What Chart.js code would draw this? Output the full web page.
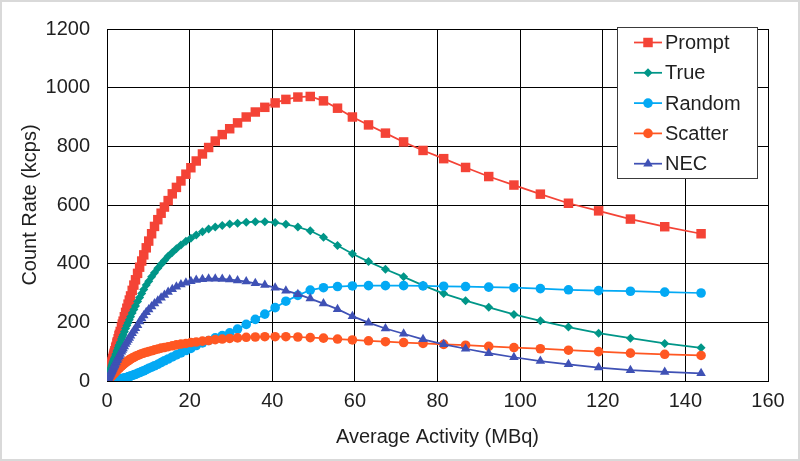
<!DOCTYPE html>
<html>
<head>
<meta charset="utf-8">
<script src="https://cdn.jsdelivr.net/npm/chart.js@4.4.1/dist/chart.umd.min.js"></script>
<style>
    body { margin: 0; background: #fff; }
    #wrap { width: 800px; height: 461px; }
</style>
</head>
<body>
<div id="wrap"><canvas id="myChart" width="800" height="461"></canvas></div>
<script>
// average activity (MBq), one sample per frame of the decay series
const activity = [0.1, 0.2, 0.3, 0.4, 0.5, 0.6, 0.7, 0.8, 0.9,
    1.0, 1.1, 1.2, 1.3, 1.4, 1.5, 1.6, 1.7, 1.8, 1.9, 2.1, 2.2, 2.4, 2.5, 2.7, 2.9, 3.0, 3.2, 3.5, 3.7,
    3.9, 4.2, 4.5, 4.8, 5.1, 5.4, 5.7, 6.1, 6.5, 6.9, 7.4, 7.9, 8.4, 8.9, 9.5, 10.1, 10.8, 11.5, 12.3, 13.1,
    13.9, 14.8, 15.8, 16.8, 17.9, 19.1, 20.3, 21.6, 23.1, 24.6, 26.2, 27.9, 29.7, 31.6, 33.7, 35.9, 38.2, 40.7, 43.3, 46.2,
    49.2, 52.4, 55.8, 59.4, 63.3, 67.4, 71.8, 76.5, 81.5, 86.8, 92.4, 98.5, 104.9, 111.7, 119.0, 126.7, 135.0, 143.8];

// count rates (kcps)
const promptRate = [6, 11, 17, 22, 28, 33, 39, 44, 50,
    55, 60, 65, 71, 76, 81, 87, 92, 97, 103, 113, 118, 129, 134, 144, 154, 159, 169, 184, 194,
    204, 219, 234, 248, 262, 276, 290, 309, 327, 345, 367, 388, 409, 430, 454, 477, 502, 527, 550, 572,
    593, 615, 638, 660, 682, 705, 727, 750, 774, 796, 818, 840, 860, 880, 900, 917, 933, 948, 960, 968,
    970, 955, 930, 900, 873, 845, 815, 786, 758, 728, 697, 668, 637, 606, 580, 552, 526, 502];
const trueRate = [4, 9, 13, 18, 22, 27, 31, 35, 40,
    44, 48, 52, 57, 61, 65, 69, 73, 77, 81, 89, 93, 101, 105, 113, 120, 124, 132, 143, 151,
    158, 168, 179, 189, 199, 209, 219, 232, 244, 256, 271, 285, 298, 312, 327, 340, 355, 369, 384, 398,
    411, 425, 438, 451, 464, 476, 487, 498, 509, 518, 525, 530, 535, 538, 541, 543, 543, 540, 534, 525,
    512, 490, 462, 434, 407, 381, 355, 326, 298, 274, 251, 227, 205, 184, 163, 146, 128, 113];
const randomRate = [0, 0, 0, 0, 0, 0, 1, 1, 1,
    1, 1, 1, 1, 1, 1, 2, 2, 2, 2, 3, 3, 3, 4, 4, 5, 5, 6, 7, 8,
    9, 10, 11, 12, 14, 15, 17, 19, 21, 23, 26, 29, 32, 35, 39, 43, 47, 52, 57, 63,
    69, 75, 82, 89, 96, 104, 111, 121, 130, 138, 147, 155, 164, 177, 193, 210, 228, 250, 272, 292,
    310, 318, 322, 324, 325, 325, 325, 324, 323, 322, 320, 318, 315, 311, 308, 306, 303, 300];
const scatterRate = [2, 3, 5, 6, 8, 9, 11, 12, 14,
    15, 17, 18, 20, 22, 23, 25, 26, 28, 29, 32, 34, 37, 38, 41, 44, 45, 48, 51, 54,
    56, 59, 63, 66, 69, 72, 75, 78, 81, 84, 87, 90, 93, 95, 98, 100, 103, 106, 109, 112,
    114, 117, 120, 123, 126, 128, 131, 133, 136, 138, 141, 143, 145, 147, 149, 150, 151, 151, 151, 150,
    148, 146, 143, 140, 137, 134, 131, 128, 125, 122, 118, 114, 110, 105, 100, 95, 91, 87];
const necRate = [3, 6, 9, 12, 15, 18, 21, 24, 27,
    30, 33, 36, 39, 42, 45, 48, 51, 54, 57, 62, 65, 71, 73, 79, 84, 87, 92, 100, 106,
    111, 118, 126, 133, 140, 147, 154, 163, 171, 180, 190, 203, 213, 223, 234, 244, 254, 264, 274, 284,
    293, 303, 313, 321, 329, 335, 340, 344, 347, 349, 349, 348, 346, 343, 339, 333, 327, 318, 308, 296,
    281, 264, 245, 221, 199, 179, 161, 142, 125, 110, 95, 81, 68, 57, 46, 37, 31, 26];

const seriesNames = ["Prompt", "True", "Random", "Scatter", "NEC"];
const xTicks = [0, 20, 40, 60, 80, 100, 120, 140, 160];
const yTicks = [0, 200, 400, 600, 800, 1000, 1200];

const fontFamily = '"Liberation Sans", Arial, sans-serif';
const textColor = '#1f1f1f';

function toPoints(ys) {
    return activity.map((x, i) => ({ x: x, y: ys[i] }));
}

function makeSet(name, ys, color, style, radius, order) {
    return {
        label: name,
        data: toPoints(ys),
        showLine: true,
        borderColor: color,
        backgroundColor: color,
        borderWidth: 1.75,
        pointStyle: style,
        pointRadius: radius,
        pointBackgroundColor: color,
        pointBorderWidth: 0,
        pointHoverRadius: radius,
        order: order
    };
}

// white page + thin gray frame round the picture
const pageFrame = {
    id: 'pageFrame',
    beforeDraw(chart) {
        const ctx = chart.ctx;
        ctx.save();
        ctx.fillStyle = '#fff';
        ctx.fillRect(0, 0, chart.width, chart.height);
        ctx.restore();
    },
    afterDraw(chart) {
        const ctx = chart.ctx;
        ctx.save();
        ctx.strokeStyle = '#d9d9d9';
        ctx.lineWidth = 2;
        ctx.strokeRect(1, 1, chart.width - 2, chart.height - 2);
        ctx.restore();
    }
};

// boxed legend with line + marker, like the spreadsheet one
const boxLegend = {
    id: 'boxLegend',
    afterDraw(chart) {
        const ctx = chart.ctx;
        ctx.save();
        ctx.fillStyle = '#fff';
        ctx.fillRect(617, 27, 141, 152);
        ctx.strokeStyle = '#3a3a3a';
        ctx.lineWidth = 1;
        ctx.strokeRect(617.5, 27.5, 140, 151);
        chart.data.datasets.forEach((ds, i) => {
            const y = 42.5 + i * 30.3;
            ctx.strokeStyle = ds.borderColor;
            ctx.lineWidth = 1.75;
            ctx.beginPath();
            ctx.moveTo(634, y);
            ctx.lineTo(662, y);
            ctx.stroke();
            ctx.fillStyle = ds.backgroundColor;
            Chart.helpers.drawPoint(ctx, { pointStyle: ds.pointStyle, radius: ds.pointRadius, borderWidth: 0, rotation: 0 }, 648, y);
            ctx.fillStyle = textColor;
            ctx.font = '20px ' + fontFamily;
            ctx.textBaseline = 'middle';
            ctx.textAlign = 'left';
            ctx.fillText(ds.label, 665, y + 1);
        });
        ctx.restore();
    }
};

const ctx = document.getElementById('myChart');
const myChart = new Chart(ctx, {
    type: 'scatter',
    data: {
        datasets: [
            makeSet(seriesNames[0], promptRate, '#F44336', 'rect', 6.7, 4),
            makeSet(seriesNames[1], trueRate, '#009688', 'rectRot', 4.5, 3),
            makeSet(seriesNames[2], randomRate, '#03A9F4', 'circle', 4.8, 2),
            makeSet(seriesNames[3], scatterRate, '#FF5722', 'circle', 4.8, 1),
            makeSet(seriesNames[4], necRate, '#3F51B5', 'triangle', 5.5, 0)
        ]
    },
    options: {
        responsive: false,
        animation: false,
        layout: { padding: { top: 18, right: 32, bottom: 0, left: 0 } },
        plugins: {
            legend: { display: false },
            tooltip: { enabled: false }
        },
        scales: {
            x: {
                type: 'linear',
                min: xTicks[0],
                max: xTicks[xTicks.length - 1],
                afterBuildTicks: (s) => { s.ticks = xTicks.map(v => ({ value: v })); },
                afterFit: (s) => { s.height = 80; },
                ticks: {
                    color: textColor, font: { size: 20, family: fontFamily }, padding: 8, maxRotation: 0,
                    callback: (v) => String(v)
                },
                grid: { color: '#000', lineWidth: 1, drawTicks: false },
                border: { color: '#000', width: 1 },
                title: {
                    display: true,
                    text: 'Average Activity (MBq)',
                    color: textColor,
                    font: { size: 20, family: fontFamily },
                    padding: { top: 0, bottom: 12 }
                }
            },
            y: {
                min: yTicks[0],
                max: yTicks[yTicks.length - 1],
                afterBuildTicks: (s) => { s.ticks = yTicks.map(v => ({ value: v })); },
                afterFit: (s) => { s.width = 107; },
                ticks: {
                    color: textColor, font: { size: 20, family: fontFamily }, padding: 17,
                    callback: (v) => String(v)
                },
                grid: { color: '#000', lineWidth: 1, drawTicks: false },
                border: { color: '#000', width: 1 },
                title: {
                    display: true,
                    text: 'Count Rate (kcps)',
                    color: textColor,
                    font: { size: 20, family: fontFamily },
                    padding: { top: 18, bottom: 0 }
                }
            }
        }
    },
    plugins: [pageFrame, boxLegend]
});
</script>
</body>
</html>
